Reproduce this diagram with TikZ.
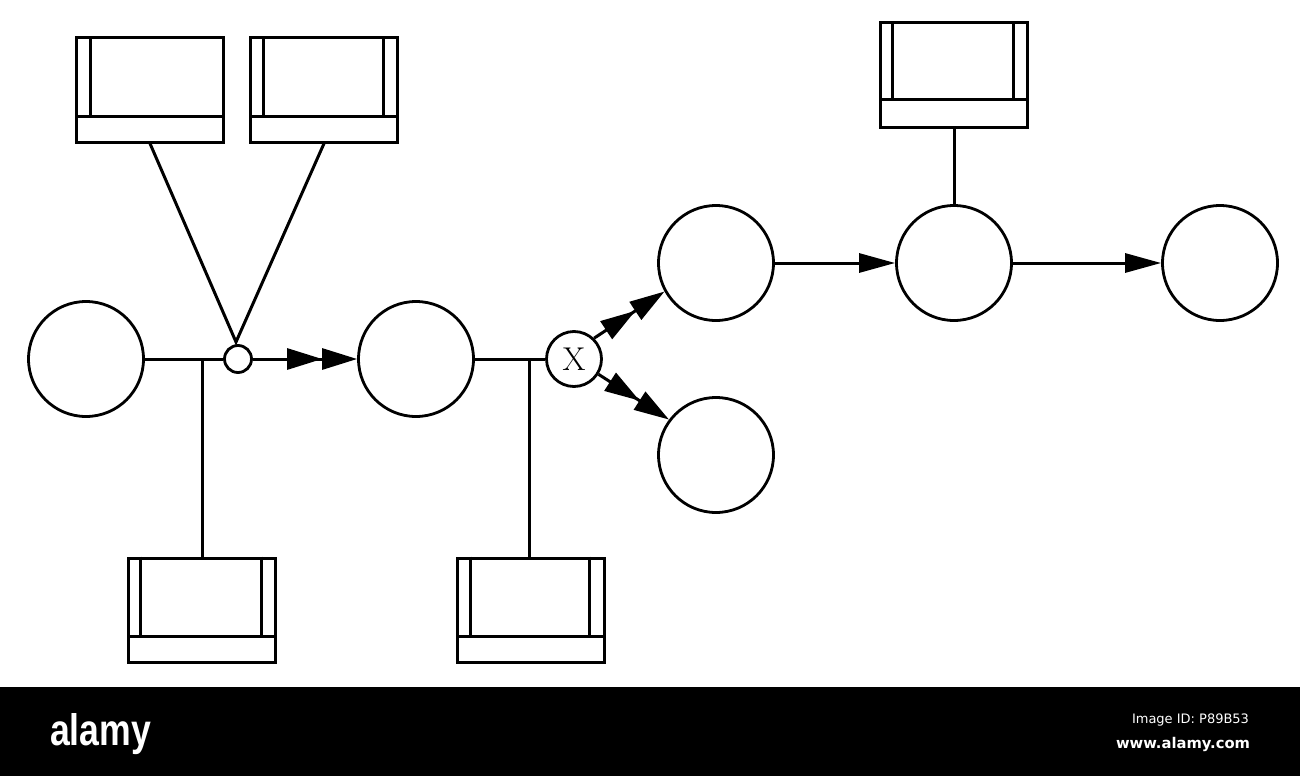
\documentclass[tikz,border=0pt]{standalone}
\usepackage{fontspec}
\usetikzlibrary{arrows.meta}
\newfontfamily\wmfont{Liberation Sans}
\newfontfamily\wmdeja{DejaVu Sans}
\begin{document}
\begin{tikzpicture}[x=1pt,y=-1pt, line width=3pt,
  circ/.style={draw,circle,minimum size=115pt,inner sep=0pt,line width=2.8pt},
  store/.style={draw,rectangle,minimum width=147pt,minimum height=104pt,inner sep=0pt},
  dbl/.style={-{Triangle[length=35pt,width=21pt]Triangle[length=35pt,width=21pt]}},
  sgl/.style={-{Triangle[length=36pt,width=19pt]}},
  wm/.style={text=white,inner sep=0pt,outer sep=0pt}]
\useasboundingbox (0,0) rectangle (1300,776);

% circles
\node[circ] (c1) at (86,359) {};
\node[circ] (c2) at (416,359) {};
\node[circ] (c3) at (716,263) {};
\node[circ] (c4) at (954,263) {};
\node[circ] (c5) at (1220,263) {};
\node[circ] (c6) at (716,455) {};
\node[draw,circle,minimum size=27pt,inner sep=0pt,line width=2.8pt] (s) at (238,359) {};
\node[draw,circle,minimum size=55pt,inner sep=0pt,line width=2.8pt,font=\fontsize{33}{33}\selectfont] (x) at (574,359) {X};

% stores
\node[store] (b1) at (150,90) {};
\node[store] (b2) at (324,90) {};
\node[store] (b3) at (202,610) {};
\node[store] (b4) at (531,610) {};
\node[store] (b5) at (954,75) {};

% store decorations
\draw ([yshift=27pt]b1.south west) -- ([yshift=27pt]b1.south east);
\draw ([xshift=15pt]b1.north west) -- ([xshift=15pt,yshift=27pt]b1.south west);

\draw ([yshift=27pt]b2.south west) -- ([yshift=27pt]b2.south east);
\draw ([xshift=14pt]b2.north west) -- ([xshift=14pt,yshift=27pt]b2.south west);
\draw ([xshift=-16pt]b2.north east) -- ([xshift=-16pt,yshift=27pt]b2.south east);

\draw ([yshift=27pt]b3.south west) -- ([yshift=27pt]b3.south east);
\draw ([xshift=13pt]b3.north west) -- ([xshift=13pt,yshift=27pt]b3.south west);
\draw ([xshift=-16pt]b3.north east) -- ([xshift=-16pt,yshift=27pt]b3.south east);

\draw ([yshift=27pt]b4.south west) -- ([yshift=27pt]b4.south east);
\draw ([xshift=14pt]b4.north west) -- ([xshift=14pt,yshift=27pt]b4.south west);
\draw ([xshift=-17pt]b4.north east) -- ([xshift=-17pt,yshift=27pt]b4.south east);

\draw ([yshift=29pt]b5.south west) -- ([yshift=29pt]b5.south east);
\draw ([xshift=13pt]b5.north west) -- ([xshift=13pt,yshift=29pt]b5.south west);
\draw ([xshift=-16pt]b5.north east) -- ([xshift=-16pt,yshift=29pt]b5.south east);

% connectors
\coordinate (apex) at (236,342);
\draw (b1.south) -- (apex) -- (b2.south);
\draw (c1.east) -- (s.west);
\coordinate (j1) at (202,359);
\draw (j1) -- (b3.north);
\draw[dbl] (s.east) -- (c2.west);
\draw (c2.east) -- (x.west);
\coordinate (j2) at (529,359);
\draw (j2) -- (j2 |- b4.north);
\draw[dbl] (x.46) -- (c3.209);
\draw[dbl] (x.-32) -- (c6.143);
\draw[sgl] (c3.east) -- (c4.west);
\draw[sgl] (c4.east) -- (c5.west);
\draw (b5.south) -- (c4.north);

% watermark bar
\fill[black] (0,687) rectangle (1300,776);
\node[wm,anchor=base west] (wa) at (50,745) {\resizebox{101pt}{32pt}{\wmfont\bfseries alamy}};
\node[wm,anchor=base east] (wi) at (1249,723) {\resizebox{117pt}{!}{\wmdeja Image ID: P89B53}};
\node[wm,anchor=base east] (ww) at (1250,748) {\resizebox{134pt}{!}{\wmdeja\bfseries www.alamy.com}};
\end{tikzpicture}
\end{document}
